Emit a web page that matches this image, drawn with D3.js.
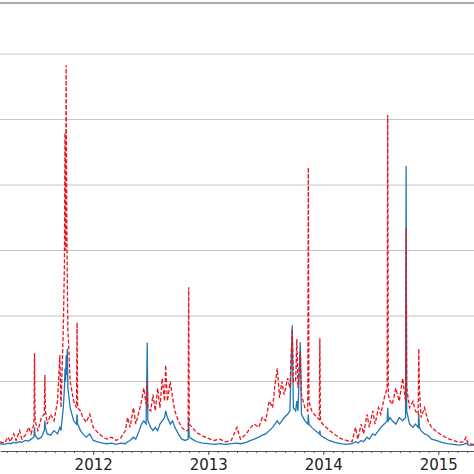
<!DOCTYPE html><html><head><meta charset="utf-8"><script src="https://d3js.org/d3.v7.min.js"></script>
<style>body{margin:0;background:#fff}</style></head><body><svg id="c" width="474" height="474"></svg><script>
const t=[2011.19,2011.23,2011.26,2011.28,2011.31,2011.33,2011.36,2011.38,2011.41,2011.44,2011.46,2011.485,2011.49,2011.495,2011.52,2011.55,2011.575,2011.58,2011.585,2011.60,2011.63,2011.66,2011.69,2011.71,2011.72,2011.74,2011.75,2011.755,2011.76,2011.765,2011.77,2011.775,2011.78,2011.80,2011.83,2011.855,2011.86,2011.865,2011.89,2011.91,2011.94,2011.97,2012.00,2012.04,2012.08,2012.12,2012.16,2012.20,2012.24,2012.28,2012.30,2012.32,2012.35,2012.37,2012.40,2012.42,2012.44,2012.46,2012.47,2012.475,2012.50,2012.52,2012.54,2012.56,2012.58,2012.60,2012.62,2012.63,2012.645,2012.67,2012.69,2012.71,2012.74,2012.77,2012.80,2012.825,2012.83,2012.835,2012.86,2012.90,2012.95,2013.00,2013.05,2013.10,2013.15,2013.20,2013.25,2013.28,2013.33,2013.37,2013.40,2013.44,2013.47,2013.50,2013.53,2013.56,2013.58,2013.60,2013.62,2013.64,2013.66,2013.69,2013.71,2013.73,2013.74,2013.76,2013.77,2013.78,2013.80,2013.81,2013.84,2013.865,2013.87,2013.875,2013.90,2013.93,2013.965,2013.97,2013.975,2014.00,2014.05,2014.10,2014.15,2014.20,2014.25,2014.28,2014.30,2014.33,2014.35,2014.38,2014.40,2014.43,2014.45,2014.48,2014.50,2014.53,2014.555,2014.56,2014.565,2014.58,2014.60,2014.63,2014.66,2014.69,2014.715,2014.72,2014.725,2014.75,2014.78,2014.80,2014.825,2014.83,2014.835,2014.85,2014.88,2014.91,2014.94,2014.98,2015.03,2015.08,2015.13,2015.18,2015.22,2015.24,2015.26,2015.31];
const blue=[0.05,0.04,0.06,0.05,0.07,0.06,0.08,0.07,0.10,0.09,0.12,0.15,0.30,0.18,0.12,0.15,0.25,0.40,0.30,0.20,0.18,0.25,0.20,0.30,0.25,0.60,0.9,1.2,1.0,1.4,1.1,1.5,0.9,0.6,0.4,0.35,0.5,0.35,0.25,0.20,0.15,0.20,0.10,0.08,0.06,0.05,0.06,0.04,0.06,0.05,0.08,0.10,0.15,0.12,0.25,0.35,0.40,0.35,1.59,0.40,0.30,0.25,0.30,0.25,0.35,0.40,0.45,0.55,0.45,0.35,0.40,0.30,0.20,0.12,0.10,0.12,0.40,0.15,0.12,0.08,0.06,0.05,0.04,0.05,0.04,0.05,0.06,0.05,0.07,0.10,0.12,0.15,0.18,0.20,0.25,0.30,0.35,0.40,0.35,0.40,0.45,0.50,0.55,1.86,0.60,0.55,0.70,0.55,1.60,0.50,0.40,0.35,0.50,0.35,0.30,0.25,0.20,0.25,0.18,0.15,0.10,0.07,0.05,0.04,0.05,0.08,0.06,0.10,0.08,0.15,0.12,0.20,0.18,0.25,0.30,0.35,0.40,0.60,0.40,0.45,0.40,0.35,0.45,0.40,0.45,4.29,0.55,0.35,0.30,0.35,0.30,0.50,0.30,0.25,0.20,0.18,0.12,0.10,0.07,0.05,0.04,0.03,0.04,0.06,0.03,0.03];
const red=[0.08,0.06,0.15,0.08,0.20,0.10,0.25,0.12,0.18,0.30,0.20,0.35,1.43,0.40,0.25,0.45,0.50,1.10,0.55,0.35,0.50,0.40,0.70,1.40,0.60,1.8,2.8,4.8,3.0,5.83,3.6,2.5,1.8,1.0,0.7,0.6,1.9,0.6,0.55,0.45,0.38,0.50,0.30,0.22,0.16,0.12,0.15,0.10,0.14,0.25,0.45,0.30,0.60,0.35,0.55,0.70,0.90,0.65,1.0,0.60,0.55,0.80,0.55,0.90,0.60,1.05,0.70,1.25,0.70,1.0,0.75,0.55,0.40,0.30,0.25,0.25,2.44,0.35,0.30,0.22,0.17,0.13,0.10,0.12,0.08,0.10,0.30,0.12,0.20,0.30,0.35,0.30,0.45,0.40,0.70,0.60,0.95,1.2,0.75,1.0,0.80,1.05,0.9,1.8,1.0,1.0,1.65,0.9,1.45,0.8,0.6,0.55,4.27,0.7,0.55,0.48,0.42,1.66,0.40,0.34,0.26,0.19,0.13,0.10,0.08,0.30,0.12,0.35,0.20,0.50,0.30,0.55,0.35,0.60,0.50,0.75,0.9,5.07,0.8,0.70,0.65,0.9,0.70,1.05,0.7,3.34,0.9,0.6,0.7,0.55,0.50,1.5,0.9,0.45,0.60,0.40,0.30,0.24,0.18,0.13,0.10,0.07,0.08,0.15,0.05,0.04];
const yearTicks=[2012,2013,2014,2015];
const monthTicks=d3.range(2011.25,2015.31,1/12);
const gridVals=[1,2,3,4,5,6];
const svg=d3.select("#c");
const x=d3.scaleLinear().domain([2011.19,2015.31]).range([0,474]);
const y=d3.scaleLinear().domain([0,6.78]).range([447,3]);
svg.append("g").selectAll("line").data(gridVals).join("line").attr("x1",0).attr("x2",474)
 .attr("y1",d=>y(d)).attr("y2",d=>y(d)).attr("stroke","#c4c4c4").attr("stroke-width",1);
svg.append("line").attr("x1",0).attr("x2",474).attr("y1",3).attr("y2",3).attr("stroke","#555").attr("stroke-width",1.2);
const pts=t.map((d,i)=>[d,blue[i],red[i]]);
svg.append("path").datum(pts).attr("fill","none").attr("stroke","#1f77b4").attr("stroke-width",1.3)
 .attr("d",d3.line().x(d=>x(d[0])).y(d=>y(d[1])));
svg.append("path").datum(pts).attr("fill","none").attr("stroke","#e8141c").attr("stroke-width",1.3).attr("stroke-dasharray","4,2")
 .attr("d",d3.line().x(d=>x(d[0])).y(d=>y(d[2])));
const mx=svg.append("g").attr("transform","translate(0,451)").call(d3.axisBottom(x).tickValues(monthTicks).tickFormat("").tickSize(2).tickSizeOuter(0));
mx.select(".domain").attr("stroke","#555");
mx.selectAll("line").attr("stroke","#555");
const ax=svg.append("g").attr("transform","translate(0,451)").call(d3.axisBottom(x).tickValues(yearTicks).tickFormat(d3.format("d")).tickSize(4).tickSizeOuter(0).tickPadding(4));
ax.select(".domain").remove();
ax.selectAll("line").attr("stroke","#555");
ax.selectAll("text").attr("font-family","DejaVu Sans").attr("font-size",15).attr("fill","#222");
</script></body></html>
